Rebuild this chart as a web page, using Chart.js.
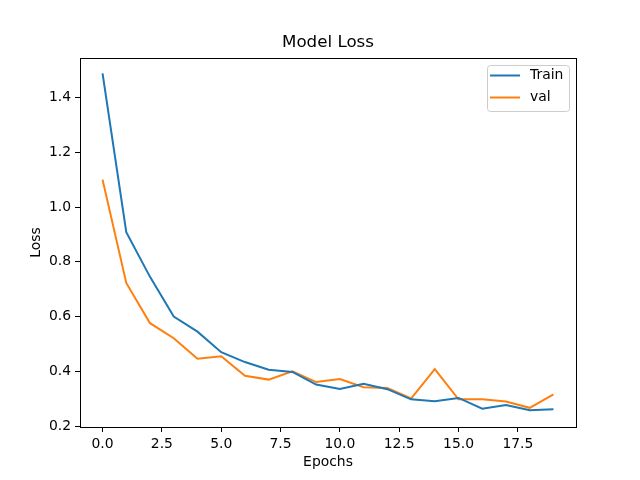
<!DOCTYPE html>
<html>
<head>
<meta charset="utf-8">
<script src="https://cdn.jsdelivr.net/npm/chart.js@4"></script>
<style>
  html, body { margin: 0; padding: 0; background: #fff; }
  canvas { display: block; }
</style>
</head>
<body>
<canvas id="lossChart" width="640" height="480"></canvas>
<script>
// data
const epochs = [0, 1, 2, 3, 4, 5, 6, 7, 8, 9, 10, 11, 12, 13, 14, 15, 16, 17, 18, 19];
const trainLoss = [1.488, 0.908, 0.745, 0.600, 0.545, 0.470, 0.434, 0.406, 0.398, 0.352,
                   0.336, 0.355, 0.335, 0.298, 0.291, 0.303, 0.264, 0.277, 0.258, 0.262];
const valLoss = [1.10, 0.723, 0.576, 0.521, 0.446, 0.455, 0.384, 0.370, 0.400, 0.361,
                 0.372, 0.342, 0.339, 0.301, 0.408, 0.298, 0.298, 0.290, 0.267, 0.316];
const xTicks = [0, 2.5, 5, 7.5, 10, 12.5, 15, 17.5];
const yTicks = [0.2, 0.4, 0.6, 0.8, 1.0, 1.2, 1.4];

const FONT = "'DejaVu Sans', sans-serif";
const BLUE = '#1f77b4';
const ORANGE = '#ff7f0e';

// title, axis labels, frame and legend box, matplotlib style
const decorPlugin = {
    id: 'decor',
    afterDraw(chart) {
        const ctx = chart.ctx;
        const a = chart.chartArea;
        ctx.save();

        // four spines
        ctx.strokeStyle = '#000';
        ctx.lineWidth = 1;
        ctx.strokeRect(a.left + 0.5, a.top + 0.5, a.right - a.left, a.bottom - a.top);

        ctx.fillStyle = '#000';
        ctx.textAlign = 'center';
        ctx.textBaseline = 'middle';
        ctx.font = '16.7px ' + FONT;
        ctx.fillText('Model Loss', (a.left + a.right) / 2, 43);

        ctx.font = '13.9px ' + FONT;
        ctx.fillText('Epochs', (a.left + a.right) / 2, 462);

        ctx.save();
        ctx.translate(36, (a.top + a.bottom) / 2);
        ctx.rotate(-Math.PI / 2);
        ctx.fillText('Loss', 0, 0);
        ctx.restore();

        // legend
        const bx = 487, by = 65, bw = 82, bh = 46;
        ctx.fillStyle = 'rgba(255,255,255,0.8)';
        ctx.strokeStyle = '#cccccc';
        ctx.lineWidth = 1;
        ctx.beginPath();
        ctx.roundRect(bx + 0.5, by + 0.5, bw, bh, 3);
        ctx.fill();
        ctx.stroke();

        const items = [['Train', BLUE, 75.5], ['val', ORANGE, 97.5]];
        items.forEach(([label, color, y]) => {
            ctx.strokeStyle = color;
            ctx.lineWidth = 2;
            ctx.beginPath();
            ctx.moveTo(490, y);
            ctx.lineTo(520, y);
            ctx.stroke();
            ctx.fillStyle = '#000';
            ctx.textAlign = 'left';
            ctx.font = '13.9px ' + FONT;
            ctx.fillText(label, 530, y);
        });

        ctx.restore();
    }
};

const ctx = document.getElementById('lossChart').getContext('2d');
new Chart(ctx, {
    type: 'line',
    data: {
        datasets: [
            {
                label: 'Train',
                data: epochs.map((e, i) => ({ x: e, y: trainLoss[i] })),
                borderColor: BLUE,
                borderWidth: 2,
                pointRadius: 0,
                tension: 0,
                fill: false,
            },
            {
                label: 'val',
                data: epochs.map((e, i) => ({ x: e, y: valLoss[i] })),
                borderColor: ORANGE,
                borderWidth: 2,
                pointRadius: 0,
                tension: 0,
                fill: false,
            },
        ],
    },
    options: {
        responsive: false,
        animation: false,
        devicePixelRatio: 1,
        layout: { padding: { top: 58, right: 64, left: 0, bottom: 0 } },
        plugins: {
            legend: { display: false },
            title: { display: false },
            tooltip: { enabled: false },
        },
        scales: {
            x: {
                type: 'linear',
                min: -0.95,
                max: 19.95,
                afterBuildTicks: scale => { scale.ticks = xTicks.map(v => ({ value: v })); },
                afterFit: scale => { scale.height = 53; },
                grid: { drawOnChartArea: false, color: '#000', tickLength: 5, tickWidth: 1 },
                border: { display: false },
                ticks: {
                    color: '#000',
                    padding: 4,
                    autoSkip: false,
                    maxRotation: 0,
                    font: { family: FONT, size: 13.9 },
                    callback: v => v.toFixed(1),
                },
            },
            y: {
                min: 0.197,
                max: 1.544,
                afterBuildTicks: scale => { scale.ticks = yTicks.map(v => ({ value: v })); },
                afterFit: scale => { scale.width = 80; },
                grid: { drawOnChartArea: false, color: '#000', tickLength: 5, tickWidth: 1 },
                border: { display: false },
                ticks: {
                    color: '#000',
                    padding: 4,
                    autoSkip: false,
                    font: { family: FONT, size: 13.9 },
                    callback: v => v.toFixed(1),
                },
            },
        },
    },
    plugins: [decorPlugin],
});
</script>
</body>
</html>
